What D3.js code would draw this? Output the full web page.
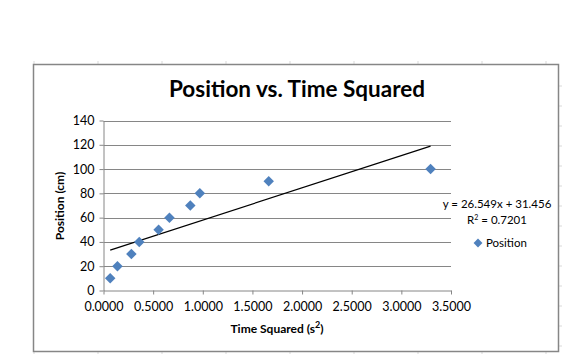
<!DOCTYPE html>
<html>
<head>
<meta charset="utf-8">
<script src="https://cdn.jsdelivr.net/npm/d3@7"></script>
<style>
  body { margin: 0; background: #fff; }
  text { font-family: Lato, "Open Sans", sans-serif; fill: #000; }
</style>
</head>
<body>
<div id="container"></div>
<script>
const width = 562,
  height = 354;

/** -------------- DATA -------------- */

// time squared (s^2) and position (cm)
const timeSquared = [0.0676, 0.1406, 0.2809, 0.36, 0.555, 0.6642, 0.8742, 0.9702, 1.6641, 3.2942];
const position = [10, 20, 30, 40, 50, 60, 70, 80, 90, 100];
const xTicks = [0, 0.5, 1, 1.5, 2, 2.5, 3, 3.5];
const yTicks = [0, 20, 40, 60, 80, 100, 120, 140];
// linear trendline as printed on the chart
const slope = 26.549, intercept = 31.456, rSquared = 0.7201;

const data = timeSquared.map((t, i) => ({ x: t, y: position[i] }));

/** -------------- SCALES -------------- */

const x = d3.scaleLinear([0, 3.5], [103.5, 451]);
const y = d3.scaleLinear([0, 140], [290.5, 120.5]);

/** -------------- APPEND TO DOM -------------- */

const svg = d3.select("#container")
  .append("svg")
  .attr("width", width)
  .attr("height", height);

// spreadsheet cell lines peeking around the chart frame
const sheet = svg.append("g").attr("stroke", "#d9d9d9");
d3.range(34, 560, 64).forEach(cx => {
  sheet.append("line").attr("x1", cx).attr("x2", cx).attr("y1", 61).attr("y2", 64);
  sheet.append("line").attr("x1", cx).attr("x2", cx).attr("y1", 352).attr("y2", 354);
});
d3.range(86, 352, 20).forEach(cy => {
  sheet.append("line").attr("x1", 559).attr("x2", 562).attr("y1", cy).attr("y2", cy);
});

// chart frame
svg.append("rect")
  .attr("x", 33.5)
  .attr("y", 64.5)
  .attr("width", 525)
  .attr("height", 287)
  .attr("fill", "#fff")
  .attr("stroke", "#868686")
  .attr("stroke-width", 1.5);

svg.append("text")
  .attr("x", 297)
  .attr("y", 97)
  .attr("text-anchor", "middle")
  .attr("font-size", 22.5)
  .attr("font-weight", "bold")
  .text("Position vs. Time Squared");

// gridlines
svg.append("g")
  .selectAll("line")
  .data(yTicks.slice(1))
  .join("line")
    .attr("x1", x(0))
    .attr("x2", x(3.5))
    .attr("y1", d => Math.round(y(d)) + 0.5)
    .attr("y2", d => Math.round(y(d)) + 0.5)
    .attr("stroke", "#868686");

// axes
const yAxis = svg.append("g")
  .attr("transform", `translate(${x(0)},0)`)
  .call(d3.axisLeft(y).tickValues(yTicks).tickSize(4).tickPadding(5).tickSizeOuter(0));

const xAxis = svg.append("g")
  .attr("transform", `translate(0,${y(0)})`)
  .call(d3.axisBottom(x).tickValues(xTicks).tickFormat(d3.format(".4f")).tickSize(4).tickPadding(8).tickSizeOuter(0));

[xAxis, yAxis].forEach(a => {
  a.selectAll("path, line").attr("stroke", "#868686");
  a.selectAll("text").attr("font-size", 12.5).attr("font-family", null).attr("fill", "#000");
});

svg.append("text")
  .attr("x", 277)
  .attr("y", 333)
  .attr("text-anchor", "middle")
  .attr("font-size", 12)
  .attr("font-weight", "bold")
  .text("Time Squared (s")
  .append("tspan").attr("baseline-shift", "super").attr("font-size", 9).text("2")
  .select(function () { return this.parentNode; })
  .append("tspan").text(")");

svg.append("text")
  .attr("transform", "translate(64,206) rotate(-90)")
  .attr("text-anchor", "middle")
  .attr("font-size", 12)
  .attr("font-weight", "bold")
  .text("Position (cm)");

// trendline over the range of the data
const xr = d3.extent(timeSquared);
svg.append("line")
  .attr("x1", x(xr[0]))
  .attr("y1", y(slope * xr[0] + intercept))
  .attr("x2", x(xr[1]))
  .attr("y2", y(slope * xr[1] + intercept))
  .attr("stroke", "#000")
  .attr("stroke-width", 1.2);

const diamond = d3.symbol(d3.symbolDiamond2, 70);

svg.append("g")
  .selectAll("path")
  .data(data)
  .join("path")
    .attr("d", diamond)
    .attr("transform", d => `translate(${x(d.x)},${y(d.y)})`)
    .attr("fill", "#4f81bd");

// trendline label and legend
svg.append("text")
  .attr("x", 497)
  .attr("y", 208)
  .attr("text-anchor", "middle")
  .attr("font-size", 11.5)
  .text(`y = ${slope}x + ${intercept}`);

svg.append("text")
  .attr("x", 497)
  .attr("y", 224)
  .attr("text-anchor", "middle")
  .attr("font-size", 11.5)
  .text("R")
  .append("tspan").attr("baseline-shift", "super").attr("font-size", 7).text("2")
  .select(function () { return this.parentNode; })
  .append("tspan").text(` = ${rSquared}`);

svg.append("path")
  .attr("d", d3.symbol(d3.symbolDiamond2, 50))
  .attr("transform", "translate(478,243)")
  .attr("fill", "#4f81bd");

svg.append("text")
  .attr("x", 486)
  .attr("y", 247)
  .attr("font-size", 11.5)
  .text("Position");
</script>
</body>
</html>
